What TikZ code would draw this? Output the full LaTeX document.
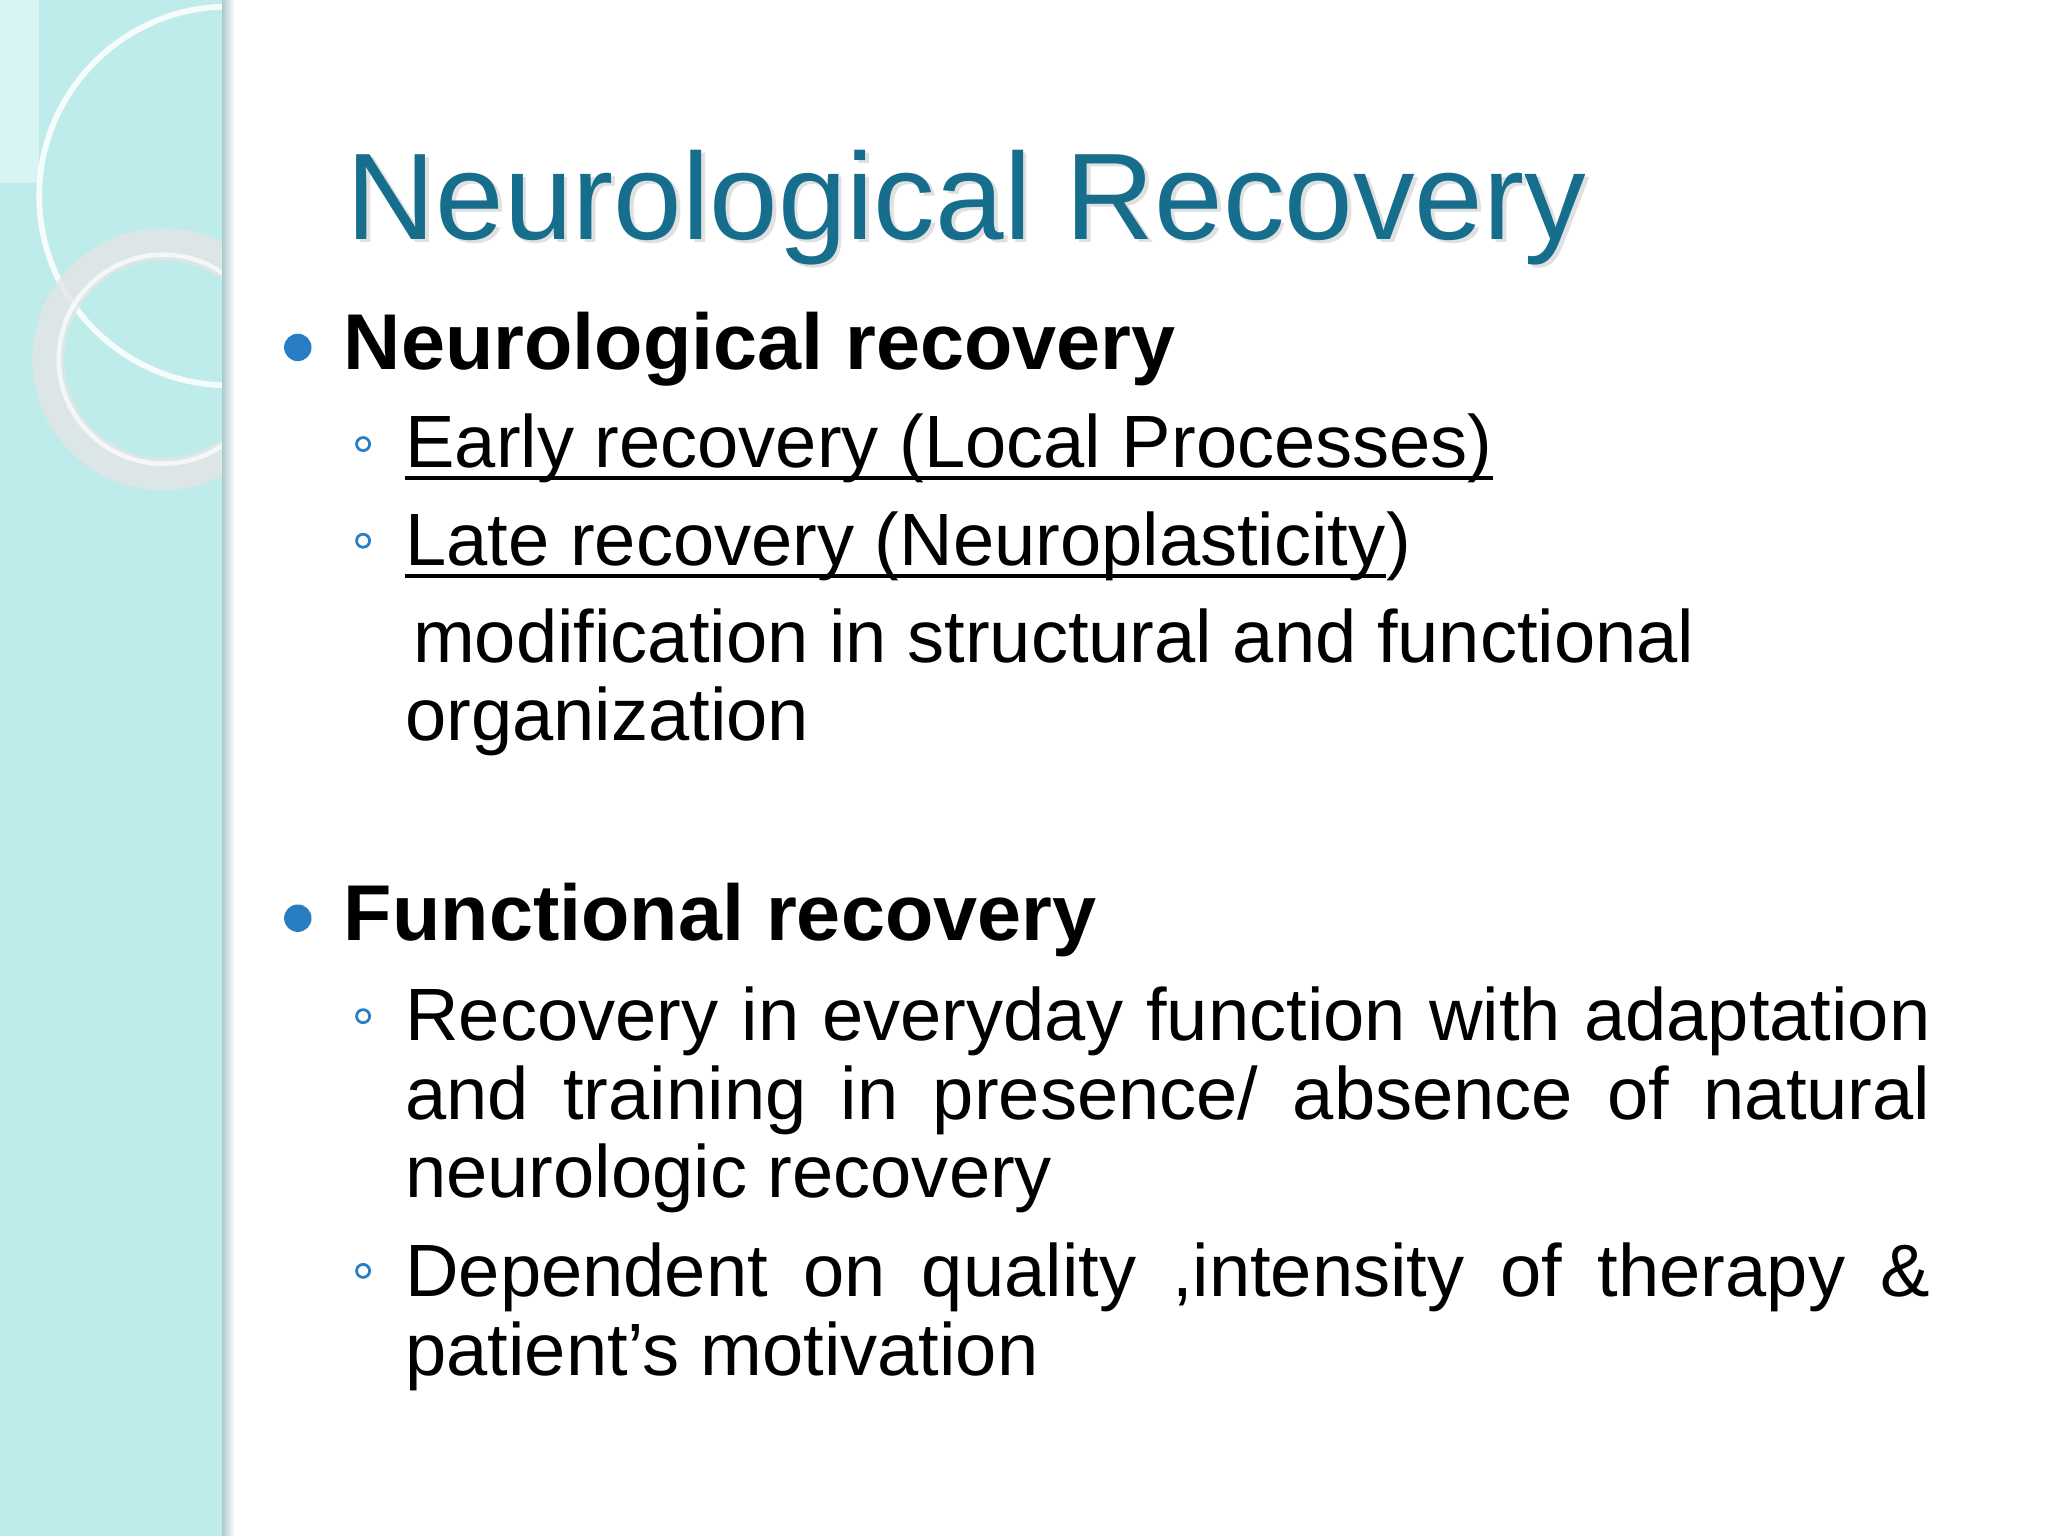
\documentclass[tikz,border=0pt]{standalone}
\usepackage{fontspec}
\setmainfont{Liberation Sans}
\definecolor{strip}{RGB}{190,236,234}
\definecolor{bul}{RGB}{40,125,195}
\begin{document}
\begin{tikzpicture}[x=0.02cm,y=-0.02cm,
  body/.style={anchor=base west,inner sep=0,font=\fontsize{32.3pt}{38pt}\selectfont},
  head/.style={body,font=\fontsize{34.5pt}{40pt}\selectfont\bfseries},
  dot/.style={circle,fill=bul,inner sep=0,minimum size=0.42cm},
  sub/.style={circle,draw=bul,line width=1.2pt,inner sep=0,minimum size=0.2cm},
  uline/.style={line width=1.8pt}]
\useasboundingbox (0,0) rectangle (1568,1176);
\fill[white] (0,0) rectangle (1568,1176);
\fill[strip] (0,0) rectangle (175,1176);
\begin{scope}
\clip (0,0) rectangle (175,1176);
\fill[strip!60!white] (0,0) rectangle (30,140);
\draw[white,line width=2.5pt,opacity=0.85] (175,150) circle (145);
\draw[gray!20,line width=14pt,opacity=0.8] (125,275) circle (88);
\draw[white,line width=2pt,opacity=0.7] (125,275) circle (80);
\end{scope}
\shade[left color=strip!70!gray,right color=white] (170,0) rectangle (180,1176);
% title
\node[anchor=base west,inner sep=0,text=gray!40,opacity=0.6,font=\fontsize{53.7pt}{60pt}\selectfont] at (268,186) {Neurological Recovery};
\node (title)[anchor=base west,inner sep=0,text={rgb,255:red,22;green,110;blue,140},font=\fontsize{53.7pt}{60pt}\selectfont] at (265,183) {Neurological Recovery};
% bullets
\node (b1) [dot] at (228,266) {};
\node (h1) [head] at (263,283) {Neurological recovery};
\node (s1) [sub] at (278,340) {};
\node (e1) [body] at (310,358) {Early recovery (Local Processes)};
\draw[uline] ([yshift=-0.16cm]e1.base west) -- ([yshift=-0.16cm]e1.base east);
\node (s2) [sub] at (278,414) {};
\node (e2) [body] at (310,433) {Late recovery (Neuroplasticity};
\node (e2b) [body,anchor=base west] at (e2.base east) {)};
\draw[uline] ([yshift=-0.16cm]e2.base west) -- ([yshift=-0.16cm]e2.base east);
\node (m1) [body] at (316,507) {modification in structural and functional};
\node (m2) [body] at (310,567) {organization};
\node (b2) [dot] at (228,703) {};
\node (h2) [head] at (263,720) {Functional recovery};
\node (s3) [sub] at (278,778) {};
\node (r1) [body] at (310,797) {\makebox[23.36cm][s]{Recovery in everyday function with adaptation}};
\node (r2) [body] at (310,857) {\makebox[23.36cm][s]{and training in presence/ absence of natural}};
\node (r3) [body] at (310,917) {neurologic recovery};
\node (s4) [sub] at (278,973) {};
\node (d1) [body] at (310,993) {\makebox[23.36cm][s]{Dependent on quality ,intensity of therapy \&}};
\node (d2) [body] at (310,1053) {patient’s motivation};
\end{tikzpicture}
\end{document}
